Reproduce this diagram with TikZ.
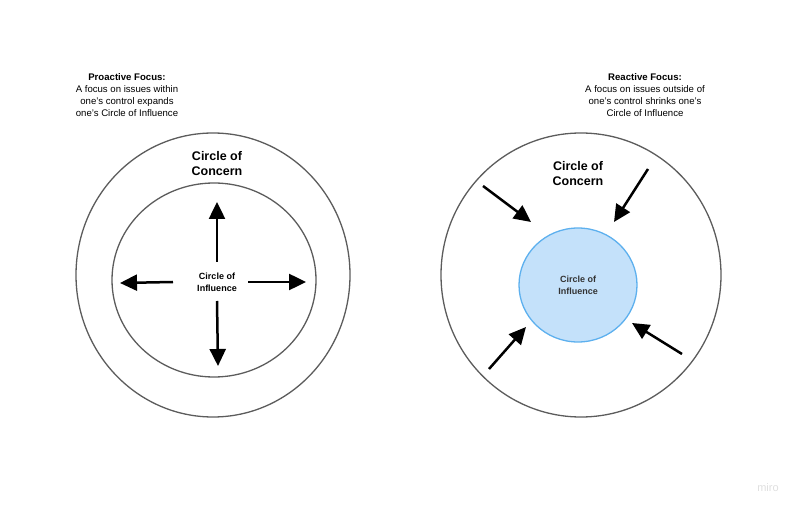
\documentclass[tikz,border=0pt]{standalone}
\usepackage{fontspec}
\setmainfont{Liberation Sans}
\usepackage{xcolor}
\usetikzlibrary{shapes.geometric, arrows.meta, positioning}

\definecolor{ringgray}{HTML}{5C5C5C}
\definecolor{inflfill}{HTML}{C4E1FA}
\definecolor{infldraw}{HTML}{5DB0EE}

\begin{document}
\begin{tikzpicture}[x=1pt, y=-1pt,
    ring/.style={ellipse, draw=ringgray, line width=1.3pt, inner sep=0pt},
    push/.style={line width=2.5pt, -{Triangle[length=17pt, width=16pt]}},
    caption/.style={align=center, font=\fontsize{9.6}{12}\selectfont},
    ringlabel/.style={align=center, font=\fontsize{12.5}{15}\selectfont\bfseries},
    corelabel/.style={align=center, font=\fontsize{9}{12}\selectfont\bfseries}]
    \useasboundingbox (0,0) rectangle (800,510);

    % Proactive side
    \node[caption] (proCap) at (127,95) {\textbf{Proactive Focus:}\\A focus on issues within\\one's control expands\\one's Circle of Influence};
    \node[ring, minimum width=274pt, minimum height=284pt] (concernL) at (213,275) {};
    \node[ring, minimum width=204pt, minimum height=194pt] (influenceL) at (214,280) {};
    \node[ringlabel] (concernLTxt) at (217,164) {Circle of\\Concern};
    \node[corelabel] (influenceLTxt) at (217,282) {Circle of\\Influence};

    % expanding arrows
    \foreach \n/\sx/\sy/\ex/\ey in {up/217/262/217/202, lf/173/282/120/283,
                                    rt/248/282/306/282, dn/217/301/218/366} {
        \coordinate (\n-s) at (\sx,\sy);
        \coordinate (\n-e) at (\ex,\ey);
        \draw[push] (\n-s) -- (\n-e);
    }

    % Reactive side
    \node[caption] (reCap) at (645,95) {\textbf{Reactive Focus:}\\A focus on issues outside of\\one's control shrinks one's\\Circle of Influence};
    \node[ring, minimum width=280pt, minimum height=284pt] (concernR) at (581,275) {};
    \node[ellipse, fill=inflfill, draw=infldraw, line width=1.3pt, inner sep=0pt,
          minimum width=118pt, minimum height=114pt] (influenceR) at (578,285) {};
    \node[ringlabel] (concernRTxt) at (578,174) {Circle of\\Concern};
    \node[corelabel, text=black!80] (influenceRTxt) at (578,285) {Circle of\\Influence};

    % shrinking arrows
    \foreach \n/\sx/\sy/\ex/\ey in {tl/483/186/531/222, tr/648/169/614/222,
                                    bl/489/369/526/327, br/682/354/632/323} {
        \coordinate (\n-s) at (\sx,\sy);
        \coordinate (\n-e) at (\ex,\ey);
        \draw[push] (\n-s) -- (\n-e);
    }

    % watermark
    \node[font=\fontsize{11}{12}\selectfont, text=gray!25] (wm) at (768,488) {miro};
\end{tikzpicture}
\end{document}
